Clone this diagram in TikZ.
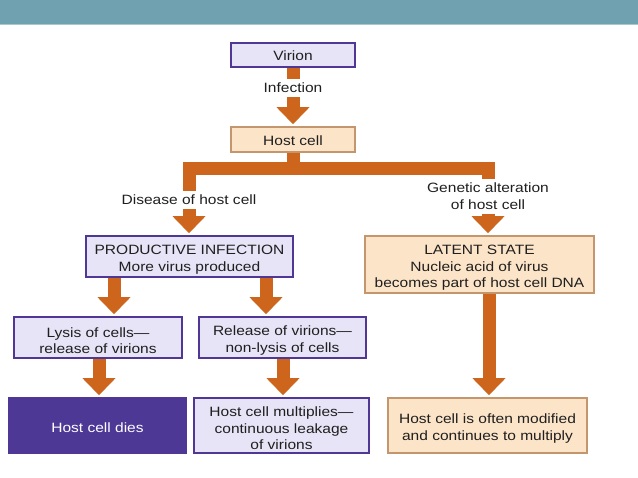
\documentclass[tikz,border=0pt]{standalone}
\usepackage{fontspec}
\setmainfont{Liberation Sans}[FakeStretch=1.15]
\usetikzlibrary{arrows.meta}
\definecolor{flowc}{RGB}{206,101,28}
\definecolor{lav}{RGB}{230,228,246}
\definecolor{pborder}{RGB}{80,55,150}
\definecolor{darkp}{RGB}{78,56,150}
\definecolor{peach}{RGB}{252,228,200}
\definecolor{peachb}{RGB}{196,150,110}
\definecolor{topbar}{RGB}{111,161,176}
\definecolor{topline}{RGB}{170,198,210}
\newcommand{\tstrut}{\rule{0pt}{16pt}}
\begin{document}
\begin{tikzpicture}[x=1pt,y=-1pt,
  every node/.style={font=\fontsize{13.5}{16.5}\selectfont, text=black!88},
  boxbase/.style={line width=1.6pt, align=center, inner sep=0pt},
  pbox/.style={boxbase, draw=pborder, fill=lav},
  dbox/.style={boxbase, draw=pborder, fill=darkp, text=white},
  obox/.style={boxbase, draw=peachb, fill=peach},
  lbl/.style={align=center, inner xsep=2pt, inner ysep=4pt, anchor=north},
  flow/.style={draw=flowc, line width=13pt, line join=miter},
  flowarrow/.style={flow, -{Triangle[length=17pt,width=33pt,line width=0pt]}, shorten >=2pt}]
\useasboundingbox (0,0) rectangle (638,478);
\fill[white] (0,0) rectangle (638,478);
\fill[topbar] (0,0) rectangle (638,24);
\fill[topline] (0,24) rectangle (638,25.5);

% boxes
\node[pbox, minimum width=124pt, minimum height=24pt] (virion) at (293,55) {\rule{0pt}{12pt}Virion};
\node[obox, minimum width=124pt, minimum height=25pt] (host) at (293,139.5) {\rule{0pt}{12pt}Host cell};
\node[pbox, minimum width=207pt, minimum height=41pt] (prod) at (189.5,256.5) {\tstrut PRODUCTIVE INFECTION\\More virus produced};
\node[obox, minimum width=229pt, minimum height=57pt] (latent) at (479.5,264.5) {\tstrut LATENT STATE\\Nucleic acid of virus\\becomes part of host cell DNA};
\node[pbox, minimum width=168pt, minimum height=41pt] (lysis) at (98,337.5) {\tstrut Lysis of cells---\\release of virions};
\node[pbox, minimum width=167pt, minimum height=41pt] (release) at (282.5,337.5) {\tstrut Release of virions---\\non-lysis of cells};
\node[dbox, minimum width=177pt, minimum height=55pt] (dies) at (97.5,425.5) {\rule{0pt}{14.5pt}Host cell dies};
\node[pbox, minimum width=175pt, minimum height=55pt] (mult) at (281.5,425.5) {\tstrut Host cell multiplies---\\continuous leakage\\of virions};
\node[obox, minimum width=199pt, minimum height=55pt] (modif) at (487.5,425.5) {\tstrut Host cell is often modified\\and continues to multiply};

% labels
\node[lbl] (infection) at (293,79) {Infection};
\node[lbl] (disease) at (189,191) {Disease of host cell};
\node[lbl] (genetic) at (488,179) {Genetic alteration\\of host cell};

% branch coordinates
\coordinate (bl) at (189,169);
\coordinate (br) at (488,169);
\coordinate (xa) at (114,0);
\coordinate (xb) at (266,0);
\coordinate (xc) at (489,0);
\coordinate (xd) at (99,0);
\coordinate (xe) at (283,0);

% connectors
\draw[flow] (virion.south) -- (infection.north);
\draw[flowarrow] (infection.south) -- (host.north);
\draw[flow] (host.south) -- (host.south |- bl);
\draw[flow] (disease.north) -- (bl) -- (br) -- (genetic.north);
\draw[flowarrow] (disease.south) -- (prod.north -| disease.south);
\draw[flowarrow] (genetic.south) -- (latent.north -| genetic.south);
\draw[flowarrow] (prod.south -| xa) -- (lysis.north -| xa);
\draw[flowarrow] (prod.south -| xb) -- (release.north -| xb);
\draw[flowarrow] (lysis.south -| xd) -- (dies.north -| xd);
\draw[flowarrow] (release.south -| xe) -- (mult.north -| xe);
\draw[flowarrow] (latent.south -| xc) -- (modif.north -| xc);
\end{tikzpicture}
\end{document}
